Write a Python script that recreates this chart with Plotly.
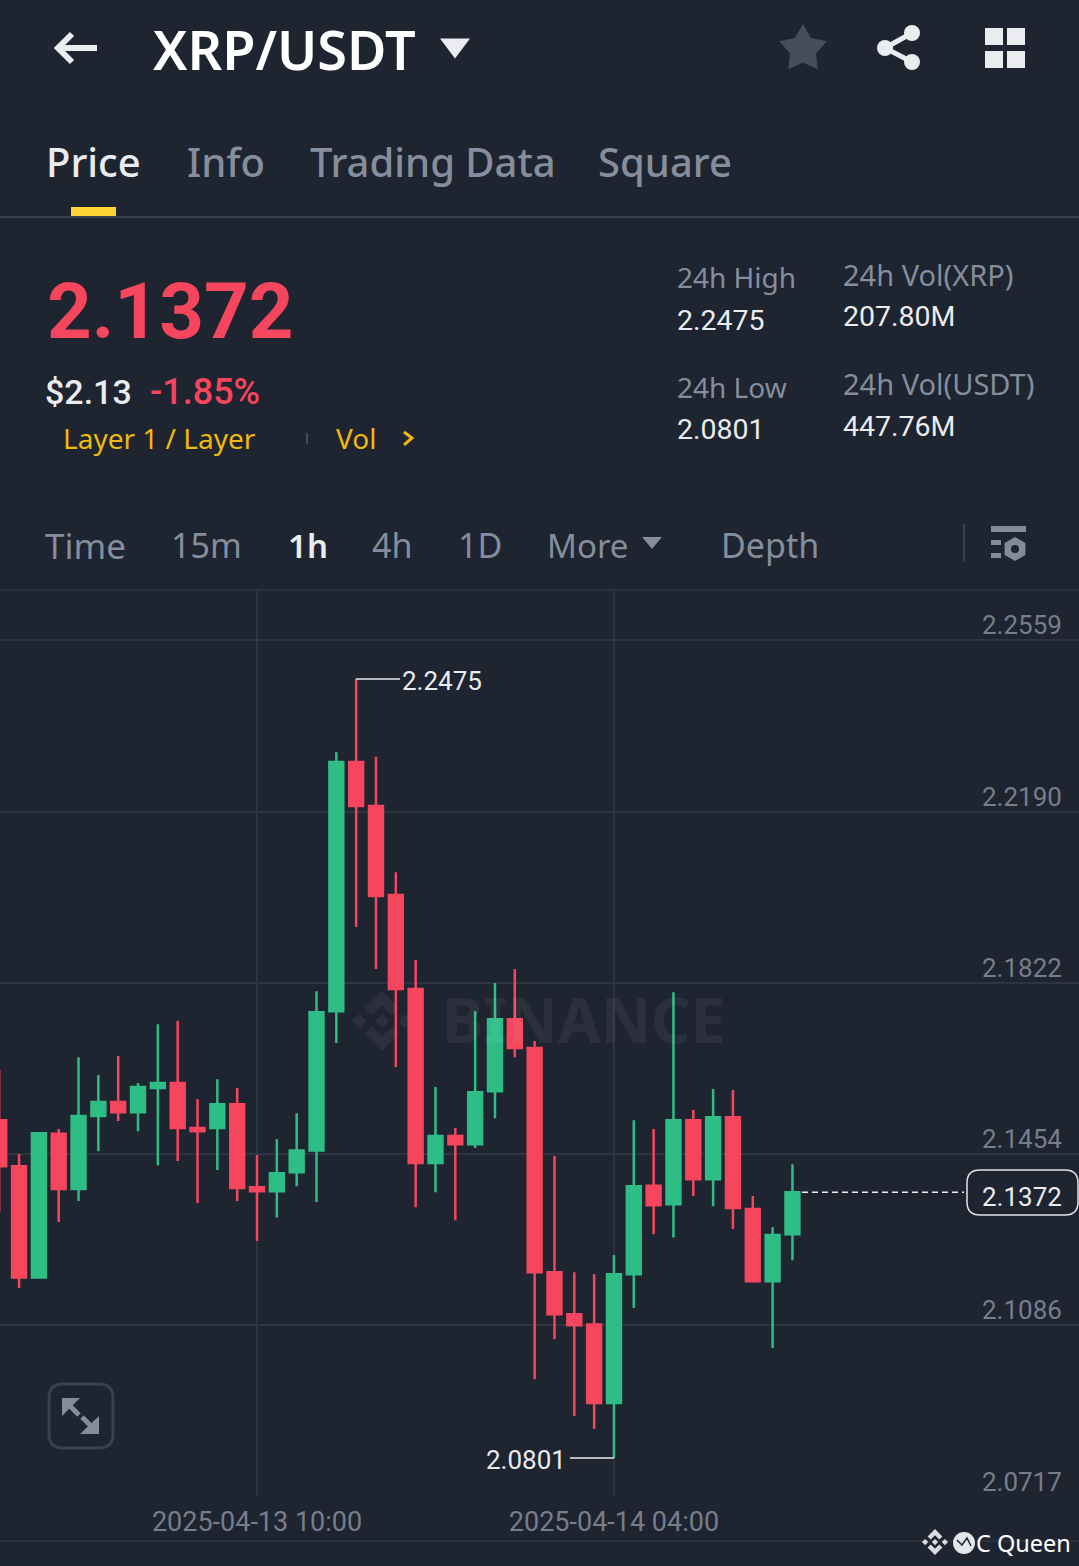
import math
import pandas as pd
import plotly.graph_objects as go

W, H = 1079, 1566
BG = "#1e2430"
GRID = "#2f3540"
RED = "#f6465d"
GREEN = "#2ebd85"
WHITE = "#eaecef"
MUTED = "#848e9c"
AXTXT = "#777e8b"
YELLOW = "#f0b90b"
FONT = "Noto Sans"
NUM = "Roboto"

hours = pd.date_range("2025-04-12 21:00", periods=41, freq="h")
opens = [2.1527, 2.1428, 2.1189, 2.1498, 2.1379, 2.1536, 2.1566, 2.1544, 2.1596, 2.1607, 2.1510,
         2.1510, 2.1561, 2.1383, 2.1374, 2.1415, 2.1462, 2.1761, 2.2297, 2.2202, 2.2011,
         2.1809, 2.1435, 2.1493, 2.1475, 2.1589, 2.1744, 2.1682, 2.1200, 2.1110, 2.1088,
         2.0919, 2.1196, 2.1386, 2.1346, 2.1527, 2.1400, 2.1533, 2.1336, 2.1181, 2.1282]
closes = [2.1428, 2.1189, 2.1499, 2.1379, 2.1536, 2.1566, 2.1544, 2.1598, 2.1607, 2.1510, 2.1503,
          2.1561, 2.1381, 2.1374, 2.1413, 2.1462, 2.1759, 2.2297, 2.2202, 2.2009, 2.1809,
          2.1435, 2.1493, 2.1475, 2.1587, 2.1744, 2.1682, 2.1200, 2.1110, 2.1086, 2.0919,
          2.1196, 2.1385, 2.1344, 2.1527, 2.1400, 2.1533, 2.1338, 2.1181, 2.1280, 2.1372]
highs = [2.1635, 2.1454, 2.1499, 2.1508, 2.1662, 2.1624, 2.1665, 2.1607, 2.1733, 2.1740, 2.1572,
         2.1615, 2.1596, 2.1452, 2.1486, 2.1542, 2.1804, 2.2318, 2.2475, 2.2308, 2.2060,
         2.1871, 2.1598, 2.1510, 2.1761, 2.1822, 2.1852, 2.1697, 2.1450, 2.1200, 2.1196,
         2.1237, 2.1527, 2.1508, 2.1802, 2.1549, 2.1594, 2.1592, 2.1364, 2.1297, 2.1432]
lows = [2.1329, 2.1166, 2.1187, 2.1308, 2.1353, 2.1460, 2.1525, 2.1503, 2.1430, 2.1439, 2.1349,
        2.1420, 2.1353, 2.1267, 2.1318, 2.1385, 2.1351, 2.1693, 2.1942, 2.1852, 2.1641,
        2.1340, 2.1372, 2.1312, 2.1467, 2.1531, 2.1662, 2.0970, 2.1056, 2.0891, 2.0863,
        2.0801, 2.1123, 2.1282, 2.1275, 2.1364, 2.1342, 2.1293, 2.1181, 2.1037, 2.1226]

y_ticks = [2.2559, 2.2190, 2.1822, 2.1454, 2.1086, 2.0717]
y_labels = ["2.2559", "2.2190", "2.1822", "2.1454", "2.1086", "2.0717"]
x_ticks = ["2025-04-13 10:00", "2025-04-14 04:00"]
last_price = 2.1372
high_price = 2.2475
low_price = 2.0801


def X(p):
    return p / W


def Y(p):
    return 1 - p / H


def poly(points, close=True):
    s = "M " + " L ".join(f"{X(a):.5f},{Y(b):.5f}" for a, b in points)
    return s + (" Z" if close else "")


def rrect(x0, y0, x1, y1, r):
    c = lambda a, b: f"{X(a):.5f},{Y(b):.5f}"
    return (f"M {c(x0+r,y0)} L {c(x1-r,y0)} Q {c(x1,y0)} {c(x1,y0+r)} L {c(x1,y1-r)} "
            f"Q {c(x1,y1)} {c(x1-r,y1)} L {c(x0+r,y1)} Q {c(x0,y1)} {c(x0,y1-r)} "
            f"L {c(x0,y0+r)} Q {c(x0,y0)} {c(x0+r,y0)} Z")


shapes = []


def path(d, fill=None, line=None, width=0, layer="above"):
    shapes.append(dict(type="path", path=d, xref="paper", yref="paper", layer=layer,
                       fillcolor=fill if fill else "rgba(0,0,0,0)",
                       line=dict(color=line if line else "rgba(0,0,0,0)", width=width)))


def hline(x0, x1, y, color, width=1.5, dash="solid", layer="above"):
    shapes.append(dict(type="line", xref="paper", yref="paper", x0=X(x0), x1=X(x1), y0=Y(y), y1=Y(y),
                       line=dict(color=color, width=width, dash=dash), layer=layer))


def circle(cx, cy, r, fill):
    shapes.append(dict(type="circle", xref="paper", yref="paper", x0=X(cx - r), x1=X(cx + r),
                       y0=Y(cy + r), y1=Y(cy - r), fillcolor=fill, line=dict(width=0)))


def logo(cx, cy, r, color, layer="above"):
    parts = [[(0, -1), (.57, -.43), (.33, -.19), (0, -.52), (-.33, -.19), (-.57, -.43)],
             [(0, 1), (.57, .43), (.33, .19), (0, .52), (-.33, .19), (-.57, .43)],
             [(-1, 0), (-.76, -.24), (-.52, 0), (-.76, .24)],
             [(1, 0), (.76, -.24), (.52, 0), (.76, .24)],
             [(0, -.24), (.24, 0), (0, .24), (-.24, 0)]]
    for p in parts:
        path(poly([(cx + a * r, cy + b * r) for a, b in p]), fill=color, layer=layer)


ann = []


def txt(x, y, text, size, color, anchor="left", weight=400, family=FONT):
    ann.append(dict(x=X(x), y=Y(y), xref="paper", yref="paper", text=text, showarrow=False,
                    xanchor=anchor, yanchor="middle", borderpad=0,
                    font=dict(size=size, color=color, family=family, weight=weight)))


# header
path(poly([(57, 48), (97, 48)], False), line=WHITE, width=6)
path(poly([(72, 34), (58, 48), (72, 62)], False), line=WHITE, width=6)
txt(152, 49, "XRP/USDT", 54, "#ffffff", weight=600)
path(poly([(443, 40), (467, 40), (455, 56)]), fill=WHITE, line=WHITE, width=3)
star = []
for k in range(10):
    rad = 21 if k % 2 == 0 else 11.5
    a = -math.pi / 2 + k * math.pi / 5
    star.append((803 + rad * math.cos(a), 49 + rad * math.sin(a)))
path(poly(star), fill="#474d5a", line="#474d5a", width=4)
path(poly([(912, 33), (885, 48), (912, 62)], False), line=WHITE, width=5)
circle(885, 48, 8, WHITE)
circle(912, 33, 8, WHITE)
circle(912, 62, 8, WHITE)
for a, b in [(985, 28), (1007, 28), (985, 51), (1007, 51)]:
    path(poly([(a, b), (a + 18, b), (a + 18, b + 17), (a, b + 17)]), fill=WHITE)

# tabs
txt(45, 161, "Price", 40, WHITE, weight=500)
txt(186, 161, "Info", 40, MUTED, weight=500)
txt(309, 161, "Trading Data", 40, MUTED, weight=500)
txt(597, 161, "Square", 40, MUTED, weight=500)
hline(0, W, 217, "#3a404b", 2)
path(poly([(71, 207), (116, 207), (116, 216), (71, 216)]), fill="#fcd535")

# price block
txt(46, 311, "2.1372", 78, RED, weight=700, family=NUM)
txt(44, 392, "$2.13", 34, WHITE, weight=500, family=NUM)
txt(149, 392, "-1.85%", 36, RED, weight=500, family=NUM)
txt(62, 438, "Layer 1 / Layer", 28, YELLOW)
path(poly([(307, 433), (307, 444)], False), line="#474d57", width=2)
txt(335, 438, "Vol", 28, YELLOW)
path(poly([(404, 432), (412, 438), (404, 445)], False), line=YELLOW, width=3)
txt(676, 277, "24h High", 28, MUTED)
txt(676, 320, "2.2475", 28.5, WHITE, family=NUM)
txt(676, 387, "24h Low", 28, MUTED)
txt(676, 430, "2.0801", 28.5, WHITE, family=NUM)
txt(842, 274, "24h Vol(XRP)", 29, MUTED)
txt(842, 317, "207.80M", 28.5, WHITE, family=NUM)
txt(842, 383, "24h Vol(USDT)", 29, MUTED)
txt(842, 427, "447.76M", 28.5, WHITE, family=NUM)

# interval bar
for px_, lab, sz in [(44, "Time", 35), (170, "15m", 34), (371, "4h", 34), (457, "1D", 34),
                     (546, "More", 33), (720, "Depth", 34)]:
    txt(px_, 545, lab, sz, MUTED)
txt(287, 545, "1h", 33, WHITE, weight=600)
path(poly([(642, 537), (662, 537), (652, 549)]), fill=MUTED)
path(poly([(964, 524), (964, 561)], False), line="#3a404b", width=2)
ICON = "#848b98"
path(poly([(991, 526), (1026, 526), (1026, 532), (991, 532)]), fill=ICON)
path(poly([(991, 540), (1001, 540), (1001, 545), (991, 545)]), fill=ICON)
path(poly([(991, 553), (1001, 553), (1001, 558), (991, 558)]), fill=ICON)
hexa = [(1015 + 12 * math.sin(k * math.pi / 3), 549 - 12 * math.cos(k * math.pi / 3)) for k in range(6)]
path(poly(hexa), fill=ICON)
circle(1015, 549, 4, BG)
hline(0, W, 590, GRID, 1.5)

# chart overlays
logo(382, 1021, 30, "#2b303c", layer="below")
ann.append(dict(x=X(440), y=Y(1019), xref="paper", yref="paper", text="BINANCE", showarrow=False,
                xanchor="left", yanchor="middle",
                font=dict(size=62, color="rgba(255,255,255,0.06)", family=FONT, weight=700)))

# price-axis labels, placed from the tick values above each grid line
for v, lab in zip(y_ticks, y_labels):
    ann.append(dict(x=X(1063), y=v, xref="paper", yref="y", text=lab, showarrow=False,
                    xanchor="right", yanchor="middle", yshift=15, borderpad=0,
                    font=dict(size=26, color=AXTXT, family=NUM)))

# extremes
shapes.append(dict(type="line", xref="paper", yref="y", x0=X(356), x1=X(400), y0=high_price, y1=high_price,
                   line=dict(color=WHITE, width=1.5)))
shapes.append(dict(type="line", xref="paper", yref="y", x0=X(570), x1=X(614), y0=low_price, y1=low_price,
                   line=dict(color=WHITE, width=1.5)))
txt(401, 681, f"{high_price:.4f}", 26, WHITE, family=NUM)
txt(567, 1460, f"{low_price:.4f}", 26, WHITE, anchor="right", family=NUM)

# last price
shapes.append(dict(type="line", xref="paper", yref="y", x0=X(802), x1=X(964), y0=last_price, y1=last_price,
                   line=dict(color=WHITE, width=1.5, dash="6px,4px")))
path(rrect(967, 1170, 1078, 1215, 13), fill=BG, line="#e0e3e8", width=1.5)
txt(1022, 1197, f"{last_price:.4f}", 26, WHITE, anchor="center", family=NUM)

# expand button
path(rrect(49, 1384, 113, 1448, 14), line="#3a404c", width=3)
ARW = "#868d9a"
path(poly([(62, 1398), (80, 1398), (62, 1416)]), fill=ARW)
path(poly([(70, 1406), (79, 1415)], False), line=ARW, width=5)
path(poly([(99, 1434), (99, 1416), (80, 1434)]), fill=ARW)
path(poly([(82, 1417), (91, 1426)], False), line=ARW, width=5)

# footer
hline(0, W, 1541, GRID, 1.5, layer="below")
logo(935, 1542, 13, "#d9dce1")
circle(964, 1543, 11, "#e4e6ea")
path(poly([(957, 1540), (962, 1545), (967, 1538), (971, 1546)], False), line=BG, width=1.5)
txt(975, 1543, "C Queen", 23.5, "#ffffff")

fig = go.Figure(go.Candlestick(
    x=hours, open=opens, high=highs, low=lows, close=closes,
    increasing=dict(line=dict(color=GREEN, width=2.5), fillcolor=GREEN),
    decreasing=dict(line=dict(color=RED, width=2.5), fillcolor=RED),
    whiskerwidth=0, hoverinfo="skip",
))

fig.update_layout(
    width=W, height=H, margin=dict(l=0, r=0, t=0, b=0, autoexpand=False),
    paper_bgcolor=BG, plot_bgcolor=BG, showlegend=False, boxgap=0.0,
    shapes=shapes, annotations=ann, font=dict(family=FONT),
    xaxis=dict(
        type="date", domain=[0, 1], range=["2025-04-12 21:02:24", "2025-04-15 03:27:00"],
        rangeslider=dict(visible=False), tickmode="array", tickvals=x_ticks, ticktext=x_ticks,
        showgrid=True, gridcolor=GRID, gridwidth=1.5, showline=False, ticks="",
        ticklabelstandoff=6, tickfont=dict(size=27, color=AXTXT, family=NUM), fixedrange=True,
    ),
    yaxis=dict(
        domain=[1 - 1497 / H, 1 - 590 / H], range=[2.0717, 2.26665], side="right",
        tickmode="array", tickvals=y_ticks, showticklabels=False, showgrid=True,
        gridcolor=GRID, gridwidth=1.5, zeroline=False, showline=False, ticks="", fixedrange=True,
    ),
)

fig.write_html(
    "out.html", config={"displayModeBar": False},
    post_script="document.body.style.margin='0';document.documentElement.style.overflow='hidden';"
                "document.documentElement.style.background='" + BG + "';",
)
